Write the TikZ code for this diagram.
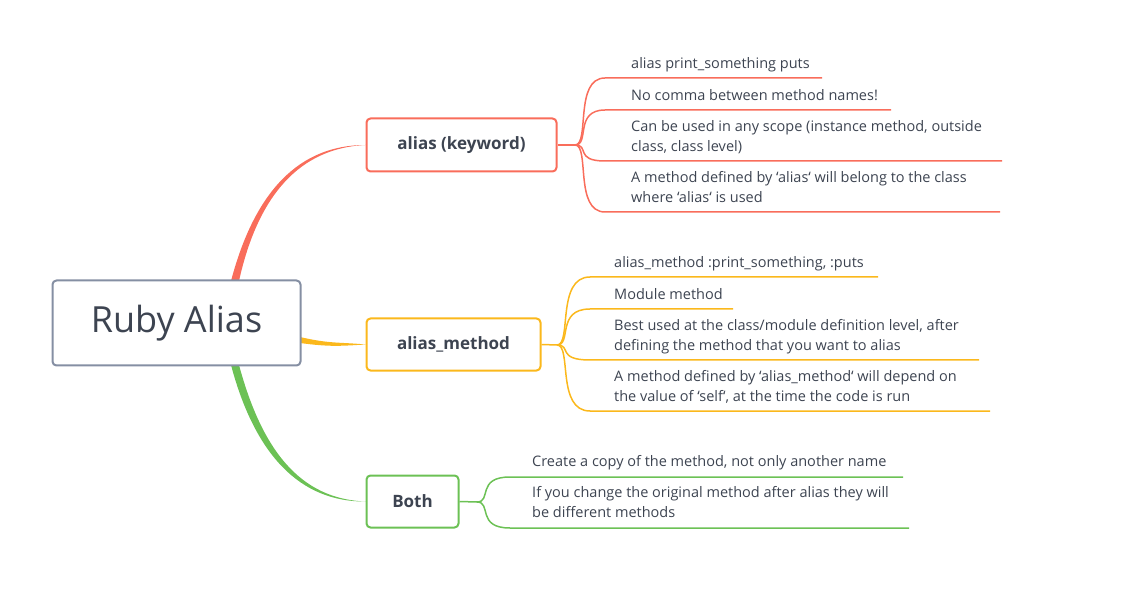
\documentclass[tikz,border=0pt]{standalone}
\usepackage{fontspec}
\setmainfont{Open Sans}
\usetikzlibrary{calc,backgrounds}
\definecolor{cr}{HTML}{F96D5B}
\definecolor{co}{HTML}{FBB81C}
\definecolor{cg}{HTML}{6CC155}
\definecolor{cgray}{HTML}{858FA3}
\definecolor{ctext}{HTML}{3D4451}
\newcommand{\bq}{\symbol{96}}
\begin{document}
\begin{tikzpicture}[x=1pt,y=-1pt,
  box/.style={draw,rounded corners=4pt,line width=2pt,fill=white,text=ctext,inner sep=0pt},
  bfont/.style={font=\fontsize{17}{20}\selectfont\bfseries},
  leaf/.style={anchor=north west,text=ctext,font=\fontsize{14.5}{20}\selectfont,align=left,inner sep=0pt},
  ln/.style={line width=1.5pt}]
\useasboundingbox (0,0) rectangle (1132,593);
% root
\node[box,draw=cgray,minimum width=248pt,minimum height=85pt,font=\fontsize{36}{40}\selectfont] (root) at (176.5,323) {Ruby Alias};
% main branches
\coordinate (rt) at (235,281);
\coordinate (rb) at (235,365);
\node[box,draw=cr,minimum width=190pt,minimum height=53pt,bfont] (a) at (461.5,145) {alias (keyword)};
\node[box,draw=co,minimum width=174pt,minimum height=52pt,bfont] (m) at (453.5,344.5) {alias\_method};
\node[box,draw=cg,minimum width=92pt,minimum height=52pt,bfont] (b) at (412.5,501.5) {Both};
\begin{scope}[on background layer]
\fill[cr] ($(rt)+(-4,0)$) .. controls (255,190) and (300,145) .. (a.west) .. controls (300,148) and (258,195) .. ($(rt)+(4,0)$) -- cycle;
\fill[co] (300,337) .. controls (330,344) and (340,342) .. (m.west) .. controls (340,346) and (330,347) .. (300,343) -- cycle;
\fill[cg] ($(rb)+(-4,0)$) .. controls (255,455) and (300,502) .. (b.west) .. controls (300,499) and (262,450) .. ($(rb)+(4,0)$) -- cycle;
\end{scope}
% branch 1 leaves
\coordinate (as) at (575,145);
\draw[cr,ln] (a.east) -- (as);
\foreach \y/\xe in {78/822,110/891,161/1002,212/1000}{
  \draw[cr,ln] (as) .. controls (590,145) and (574,\y) .. (605,\y) -- (\xe,\y);}
\node[leaf] (a1) at (631,57) {alias print\_something puts};
\node[leaf] (a2) at (631,89) {No comma between method names!};
\node[leaf] (a3) at (631,120) {Can be used in any scope (instance method, outside\\class, class level)};
\node[leaf] (a4) at (631,171) {A method defined by \bq alias\bq{} will belong to the class\\where \bq alias\bq{} is used};
% branch 2 leaves
\coordinate (ms) at (557,345);
\draw[co,ln] (m.east) -- (ms);
\foreach \y/\xe in {277/878,309/733,360/979,411/990}{
  \draw[co,ln] (ms) .. controls (572,345) and (556,\y) .. (590,\y) -- (\xe,\y);}
\node[leaf] (m1) at (614,256) {alias\_method :print\_something, :puts};
\node[leaf] (m2) at (614,288) {Module method};
\node[leaf] (m3) at (614,319) {Best used at the class/module definition level, after\\defining the method that you want to alias};
\node[leaf] (m4) at (614,370) {A method defined by \bq alias\_method\bq{} will depend on\\the value of \bq self\bq, at the time the code is run};
% branch 3 leaves
\coordinate (bs) at (477,502);
\draw[cg,ln] (b.east) -- (bs);
\foreach \y/\xe in {477/903,528/909}{
  \draw[cg,ln] (bs) .. controls (492,502) and (476,\y) .. (510,\y) -- (\xe,\y);}
\node[leaf] (b1) at (532,455) {Create a copy of the method, not only another name};
\node[leaf] (b2) at (532,486) {If you change the original method after alias they will\\be different methods};
\end{tikzpicture}
\end{document}
